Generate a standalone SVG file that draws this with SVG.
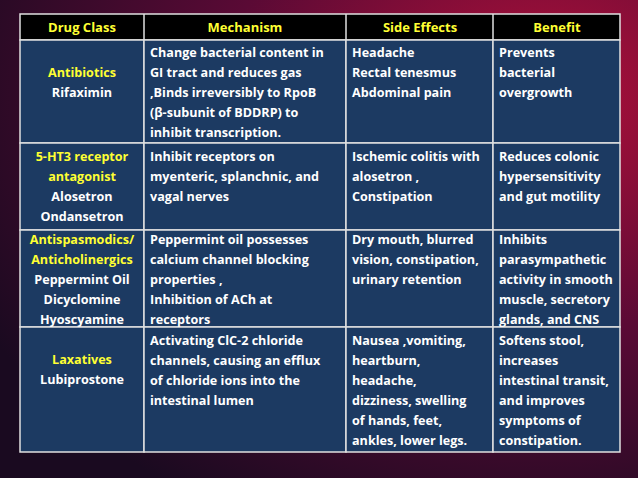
<svg xmlns="http://www.w3.org/2000/svg" width="638" height="478" viewBox="0 0 638 478">
<defs>
<radialGradient id="bg" cx="0.85" cy="0.2" r="1">
<stop offset="0" stop-color="#b0103a"/><stop offset="0.5" stop-color="#5a0a35"/><stop offset="1" stop-color="#1a0a20"/>
</radialGradient>
<style>
text{font-family:"Open Sans","Liberation Sans",sans-serif;font-weight:bold;font-size:12.6px;fill:#fff}
.h{fill:#ffff33;text-anchor:middle;font-size:13px}
.y{fill:#ffff33}
.c{text-anchor:middle}
.cell{fill:#1c3a62;stroke:#e0e0e0;stroke-width:1.5}
.hd{fill:#000;stroke:#e0e0e0;stroke-width:1.5}
</style>
</defs>
<rect width="638" height="478" fill="url(#bg)"/>
<g id="header">
<rect class="hd" x="20" y="14" width="600" height="26"/>
<line x1="144" y1="14" x2="144" y2="40" stroke="#e0e0e0" stroke-width="1.5"/>
<line x1="346" y1="14" x2="346" y2="40" stroke="#e0e0e0" stroke-width="1.5"/>
<line x1="493" y1="14" x2="493" y2="40" stroke="#e0e0e0" stroke-width="1.5"/>
<text class="h" x="82" y="32">Drug Class</text>
<text class="h" x="245" y="32">Mechanism</text>
<text class="h" x="420" y="32">Side Effects</text>
<text class="h" x="557" y="32">Benefit</text>
</g>
<g id="grid">
<rect class="cell" x="20" y="40" width="124" height="103"/><rect class="cell" x="144" y="40" width="202" height="103"/><rect class="cell" x="346" y="40" width="147" height="103"/><rect class="cell" x="493" y="40" width="127" height="103"/>
<rect class="cell" x="20" y="143" width="124" height="87"/><rect class="cell" x="144" y="143" width="202" height="87"/><rect class="cell" x="346" y="143" width="147" height="87"/><rect class="cell" x="493" y="143" width="127" height="87"/>
<rect class="cell" x="20" y="230" width="124" height="97"/><rect class="cell" x="144" y="230" width="202" height="97"/><rect class="cell" x="346" y="230" width="147" height="97"/><rect class="cell" x="493" y="230" width="127" height="97"/>
<rect class="cell" x="20" y="327" width="124" height="125"/><rect class="cell" x="144" y="327" width="202" height="125"/><rect class="cell" x="346" y="327" width="147" height="125"/><rect class="cell" x="493" y="327" width="127" height="125"/>
</g>
<g id="row1">
<text class="c y" x="82" y="77">Antibiotics</text><text class="c" x="82" y="97">Rifaximin</text>
<text x="150" y="57">Change bacterial content in</text><text x="150" y="77">GI tract and reduces gas</text><text x="150" y="97">,Binds irreversibly to RpoB</text><text x="150" y="117">(β-subunit of BDDRP) to</text><text x="150" y="137">inhibit transcription.</text>
<text x="352" y="57">Headache</text><text x="352" y="77">Rectal tenesmus</text><text x="352" y="97">Abdominal pain</text>
<text x="499" y="57">Prevents</text><text x="499" y="77">bacterial</text><text x="499" y="97">overgrowth</text>
</g>
<g id="row2">
<text class="c y" x="82" y="161">5-HT3 receptor</text><text class="c y" x="82" y="181">antagonist</text><text class="c" x="82" y="201">Alosetron</text><text class="c" x="82" y="221">Ondansetron</text>
<text x="150" y="161">Inhibit receptors on</text><text x="150" y="181">myenteric, splanchnic, and</text><text x="150" y="201">vagal nerves</text>
<text x="352" y="161">Ischemic colitis with</text><text x="352" y="181">alosetron ,</text><text x="352" y="201">Constipation</text>
<text x="499" y="161">Reduces colonic</text><text x="499" y="181">hypersensitivity</text><text x="499" y="201">and gut motility</text>
</g>
<g id="row3">
<text class="c y" x="82" y="244">Antispasmodics/</text><text class="c y" x="82" y="264">Anticholinergics</text><text class="c" x="82" y="284">Peppermint Oil</text><text class="c" x="82" y="304">Dicyclomine</text><text class="c" x="82" y="324">Hyoscyamine</text>
<text x="150" y="244">Peppermint oil possesses</text><text x="150" y="264">calcium channel blocking</text><text x="150" y="284">properties ,</text><text x="150" y="304">Inhibition of ACh at</text><text x="150" y="324">receptors</text>
<text x="352" y="244">Dry mouth, blurred</text><text x="352" y="264">vision, constipation,</text><text x="352" y="284">urinary retention</text>
<text x="499" y="244">Inhibits</text><text x="499" y="264">parasympathetic</text><text x="499" y="284">activity in smooth</text><text x="499" y="304">muscle, secretory</text><text x="499" y="324">glands, and CNS</text>
</g>
<g id="row4">
<text class="c y" x="82" y="364">Laxatives</text><text class="c" x="82" y="384">Lubiprostone</text>
<text x="150" y="345"> Activating ClC-2 chloride</text><text x="150" y="365">channels, causing an efflux</text><text x="150" y="385">of chloride ions into the</text><text x="150" y="405">intestinal lumen</text>
<text x="352" y="345">Nausea ,vomiting,</text><text x="352" y="365">heartburn,</text><text x="352" y="385">headache,</text><text x="352" y="405">dizziness, swelling</text><text x="352" y="425">of  hands, feet,</text><text x="352" y="445">ankles, lower legs.</text>
<text x="499" y="345">Softens stool,</text><text x="499" y="365">increases</text><text x="499" y="385">intestinal transit,</text><text x="499" y="405">and improves</text><text x="499" y="425">symptoms of</text><text x="499" y="445">constipation.</text>
</g>
</svg>
